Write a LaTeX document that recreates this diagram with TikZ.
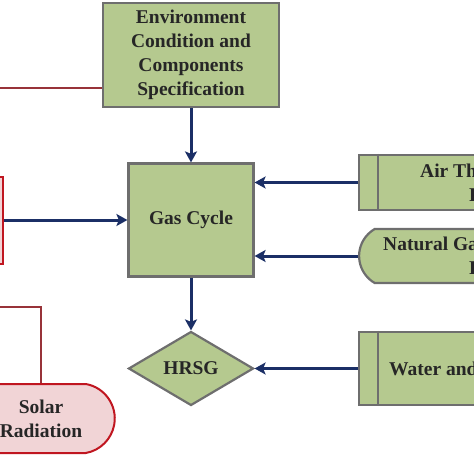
\documentclass[tikz,border=0pt]{standalone}
\usepackage{fontspec}
\setmainfont{Liberation Serif}
\usetikzlibrary{shapes.geometric,shapes.misc,arrows.meta}
\definecolor{boxgreen}{HTML}{B5C98F}
\definecolor{boxgray}{HTML}{6E6E6E}
\definecolor{flowblue}{HTML}{1B2F66}
\definecolor{solarpink}{HTML}{F1D4D6}
\definecolor{solarred}{HTML}{C01620}
\definecolor{linkred}{HTML}{983339}
\definecolor{txtgray}{HTML}{262626}
\begin{document}
\begin{tikzpicture}[x=1pt,y=-1pt,blk/.style={shape=rectangle,draw=boxgray,line width=2.2pt,fill=boxgreen,inner sep=0pt},lbl/.style={text=txtgray,font=\fontsize{19.5}{24}\selectfont\bfseries,align=center,inner sep=0pt},redblk/.style={draw=solarred,line width=2pt,fill=solarpink,inner sep=0pt},flow/.style={draw=flowblue,line width=3pt,-{Stealth[length=11pt,width=12pt,inset=2.5pt]}},link/.style={draw=linkred,line width=2pt}]
\def\barw{20};
\def\sidew{260};

\useasboundingbox (0,0) rectangle (474,474);
\clip (0,0) rectangle (474,474);

% middle column
\node[blk,lbl,minimum width=176pt,minimum height=104pt] (env) at (191,55) {Environment\\Condition and\\Components\\Specification};
\node[blk,lbl,minimum width=125pt,minimum height=113pt] (gas) at (191,220) {Gas Cycle};
\node[blk,lbl,shape=diamond,aspect=1.7,minimum width=125pt,minimum height=74pt] (hrsg) at (191,368.5) {HRSG};
\draw[flow] (env.south) -- (gas.north);
\draw[flow] (gas.south) -- (hrsg.north);

% right column
\node[blk,minimum width=\sidew pt,minimum height=55pt,anchor=west] (air) at (358,182.5) {};
\draw[blk] ([xshift=\barw pt]air.north west) -- ([xshift=\barw pt]air.south west);
\node[lbl,anchor=base west] (airA) at (420,177) {Air Th};
\node[lbl,anchor=base west] (airB) at (469,201) {P};
\draw[flow] (air.west) -- (air.west -| gas.east);

\node[blk,shape=rounded rectangle,rounded rectangle right arc=none,rounded rectangle arc length=120,minimum width=\sidew pt,minimum height=54pt,anchor=west] (ng) at (358,256) {};
\node[lbl,anchor=base west] (ngA) at (383,250) {Natural Ga};
\node[lbl,anchor=base west] (ngB) at (469,274) {P};
\draw[flow] (ng.west) -- (ng.west -| gas.east);

\node[blk,minimum width=\sidew pt,minimum height=73pt,anchor=west] (water) at (358,368.5) {};
\draw[blk] ([xshift=\barw pt]water.north west) -- ([xshift=\barw pt]water.south west);
\node[lbl,anchor=base west] (waterA) at (389,375) {Water and};
\draw[flow] (water.west) -- (hrsg.east);

% left column
\node[redblk,minimum width=100pt,minimum height=87pt,anchor=east] (left) at (4,220) {};
\draw[flow] (left.east) -- (gas.west);

\node[redblk,lbl,shape=rounded rectangle,rounded rectangle left arc=none,rounded rectangle arc length=160,minimum width=142pt,minimum height=69pt] (solar) at (41,418.5) {Solar\\Radiation};

\coordinate (topend) at (-10,88);
\draw[link] (topend) -- (topend -| env.west);
\coordinate (solarend) at (-10,307);
\draw[link] (solar.north) |- (solarend);
\end{tikzpicture}
\end{document}
